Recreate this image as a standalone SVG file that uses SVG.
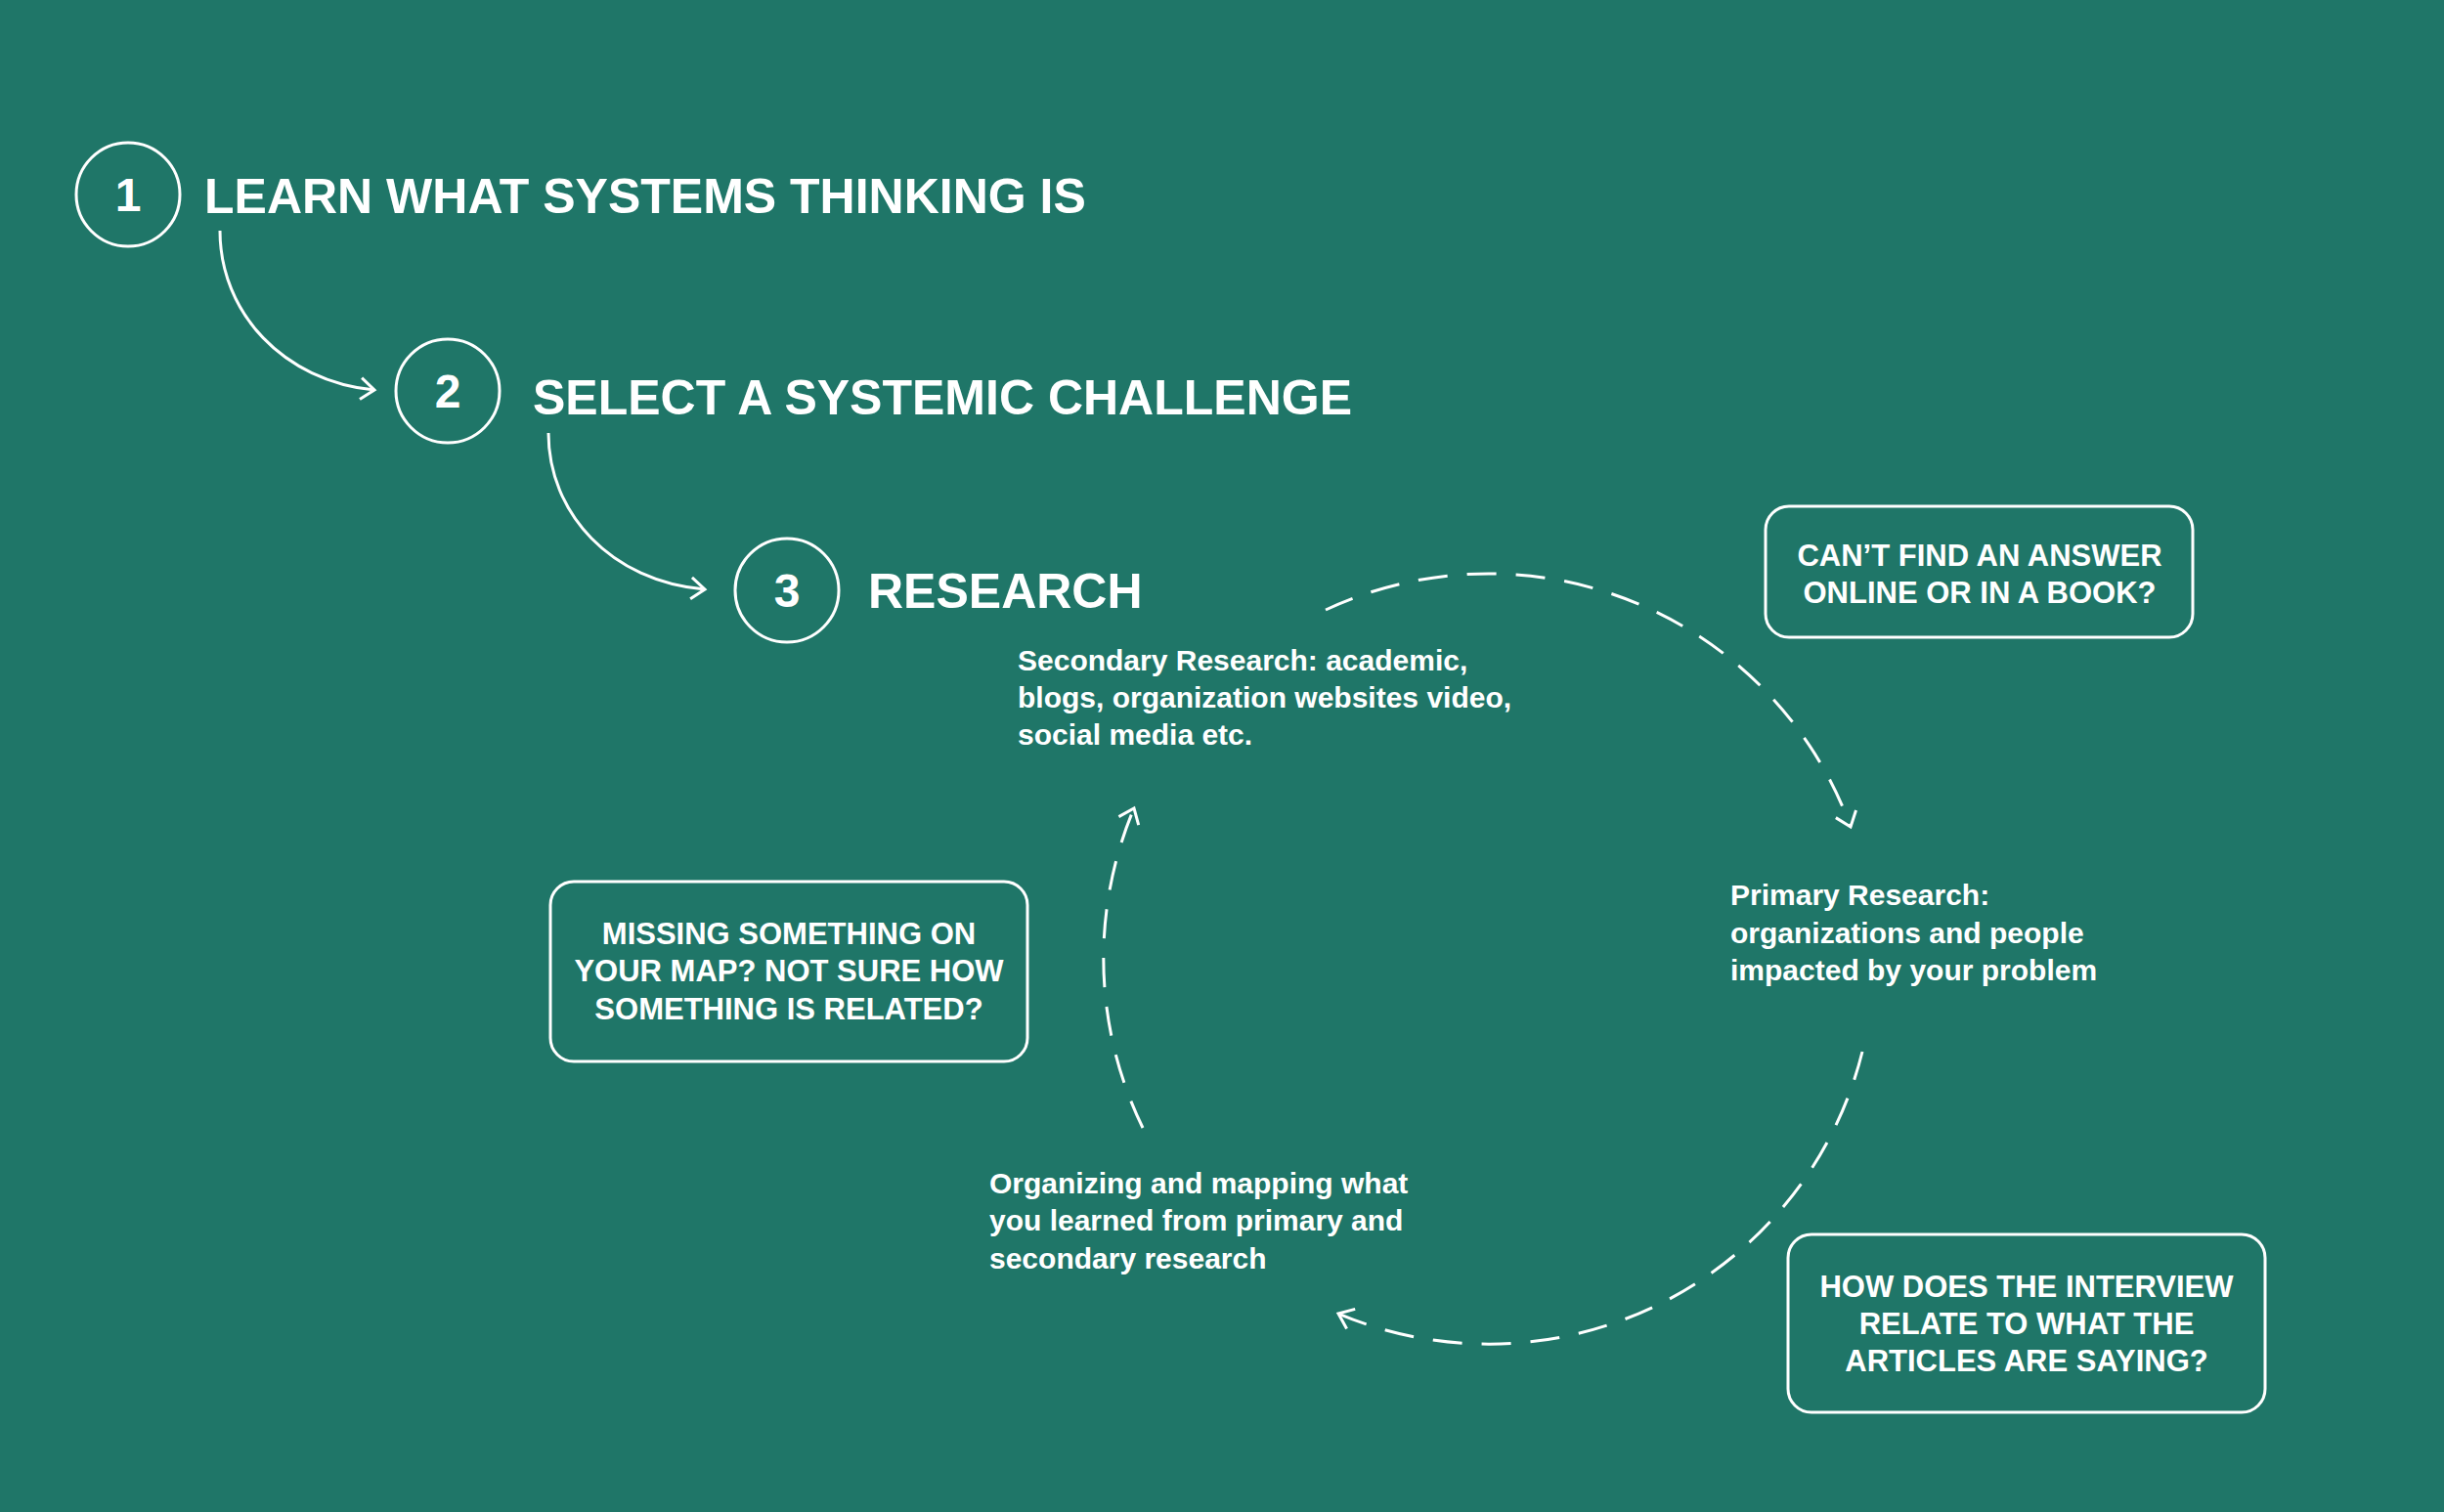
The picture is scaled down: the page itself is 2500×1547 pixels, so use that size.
<svg xmlns="http://www.w3.org/2000/svg" width="2500" height="1547" viewBox="0 0 2500 1547">
<style>
.t{font-family:"Liberation Sans",Arial,sans-serif;fill:#fff;font-weight:bold}
.h{font-size:50px}
.n{font-size:48px;text-anchor:middle}
.s{font-size:30px}
.b{font-size:31px;text-anchor:middle}
.c{fill:none;stroke:#fff;stroke-width:3}
.d{fill:none;stroke:#fff;stroke-width:3;stroke-dasharray:30 20}
</style>
<defs>
<marker id="ah" markerUnits="userSpaceOnUse" markerWidth="40" markerHeight="40" viewBox="-20 -20 40 40" orient="auto" overflow="visible">
<path d="M-14,-11 L0,0 L-14,11" fill="none" stroke="#fff" stroke-width="3"/>
</marker>
</defs>
<rect width="2500" height="1547" fill="#1f7668"/>
<g id="step1"><circle class="c" cx="131" cy="199" r="53"/><text class="t n" x="131" y="216">1</text><text class="t h" x="209" y="218">LEARN WHAT SYSTEMS THINKING IS</text></g>
<g id="step2"><circle class="c" cx="458" cy="400" r="53"/><text class="t n" x="458" y="417">2</text><text class="t h" x="545" y="424">SELECT A SYSTEMIC CHALLENGE</text></g>
<g id="step3"><circle class="c" cx="805" cy="604" r="53"/><text class="t n" x="805" y="621">3</text><text class="t h" x="888" y="622">RESEARCH</text></g>
<g id="secondary"><text class="t s" x="1041" y="686">Secondary Research: academic,</text><text class="t s" x="1041" y="724">blogs, organization websites video,</text><text class="t s" x="1041" y="762">social media etc.</text></g>
<g id="primary"><text class="t s" x="1770" y="926">Primary Research:</text><text class="t s" x="1770" y="965">organizations and people</text><text class="t s" x="1770" y="1003">impacted by your problem</text></g>
<g id="organizing"><text class="t s" x="1012" y="1221">Organizing and mapping what</text><text class="t s" x="1012" y="1259">you learned from primary and</text><text class="t s" x="1012" y="1298">secondary research</text></g>
<g id="boxA"><rect class="c" x="1806" y="518" width="437" height="134" rx="24"/><text class="t b" x="2025" y="579">CAN’T FIND AN ANSWER</text><text class="t b" x="2025" y="617">ONLINE OR IN A BOOK?</text></g>
<g id="boxB"><rect class="c" x="563" y="902" width="488" height="184" rx="24"/><text class="t b" x="807" y="966">MISSING SOMETHING ON</text><text class="t b" x="807" y="1004">YOUR MAP? NOT SURE HOW</text><text class="t b" x="807" y="1043">SOMETHING IS RELATED?</text></g>
<g id="boxC"><rect class="c" x="1829" y="1263" width="488" height="182" rx="24"/><text class="t b" x="2073" y="1327">HOW DOES THE INTERVIEW</text><text class="t b" x="2073" y="1365">RELATE TO WHAT THE</text><text class="t b" x="2073" y="1403">ARTICLES ARE SAYING?</text></g>
<g id="connectors">
<path class="c" d="M225,236 C225,320 290,390 383,399" marker-end="url(#ah)"/>
<path class="c" d="M561,443 C561,525 625,595 721,603" marker-end="url(#ah)"/>
<path class="d" d="M1356,624 A394,394 0 0 1 1893,846" marker-end="url(#ah)"/>
<path class="d" d="M1905,1076 A394,394 0 0 1 1369,1344" marker-end="url(#ah)"/>
<path class="d" d="M1169,1154 A394,394 0 0 1 1160,827" marker-end="url(#ah)"/>
</g>
</svg>
